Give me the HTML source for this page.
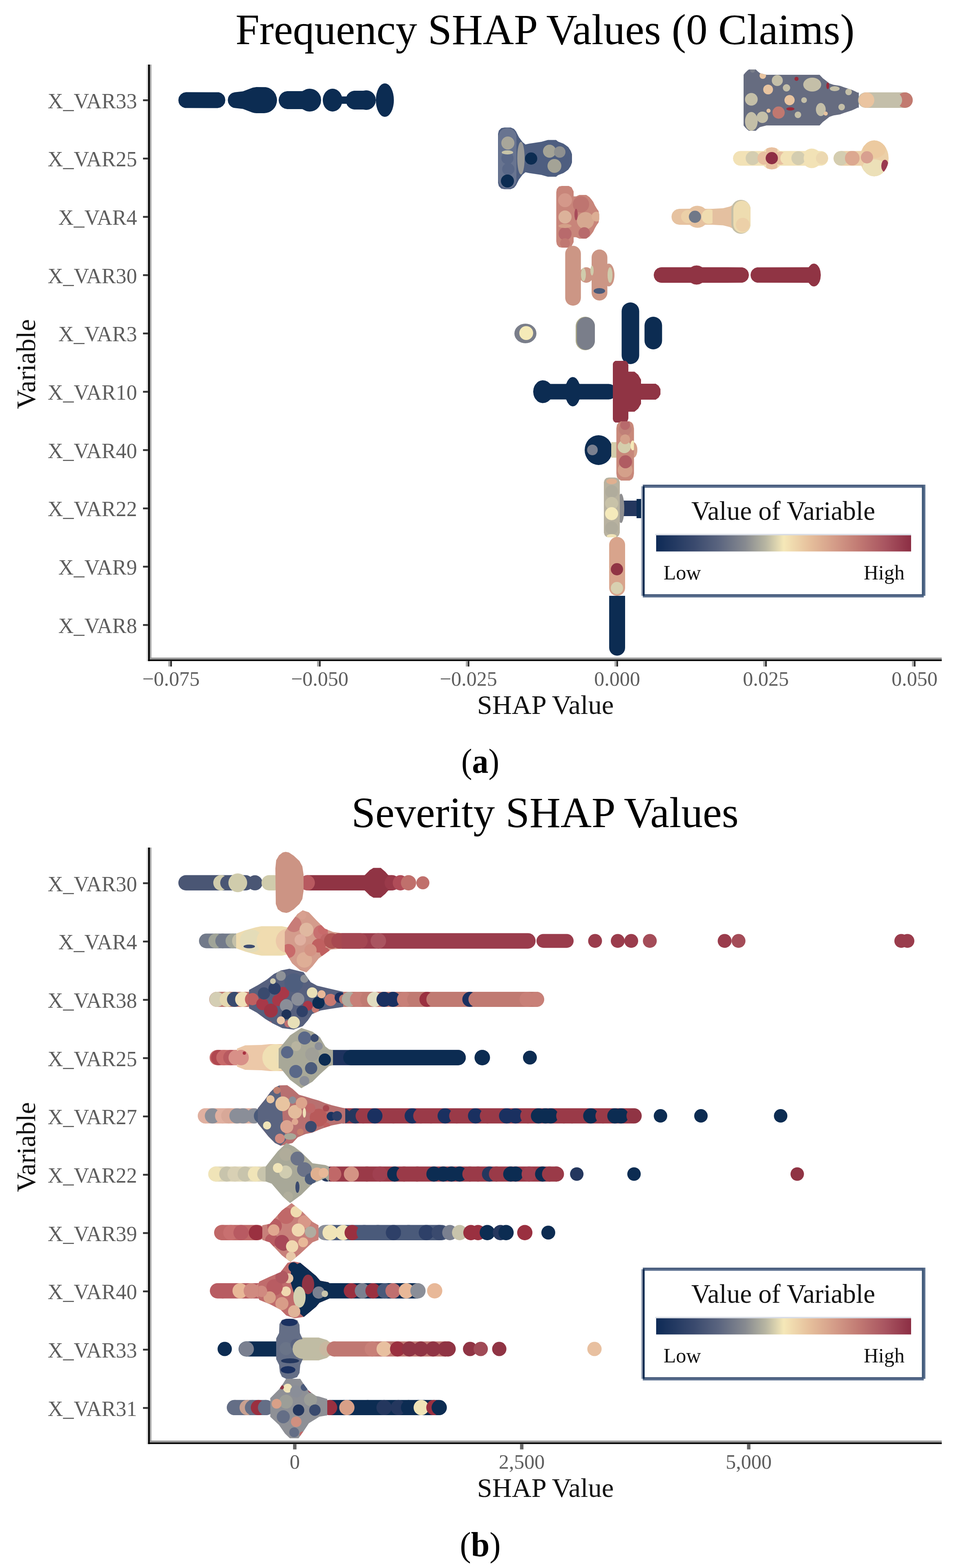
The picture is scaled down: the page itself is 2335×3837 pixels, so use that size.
<!DOCTYPE html>
<html><head><meta charset="utf-8"><title>SHAP Values</title>
<style>html,body{margin:0;padding:0;background:#fff;} svg{display:block;} text{font-family:'Liberation Serif', 'Times New Roman', serif;}</style>
</head><body>
<svg width="2335" height="3837" viewBox="0 0 2335 3837">
<defs><linearGradient id="grad" x1="0" x2="1" y1="0" y2="0"><stop offset="0" stop-color="#0e2a56"/><stop offset="0.15" stop-color="#3a4a6e"/><stop offset="0.25" stop-color="#5c6680"/><stop offset="0.35" stop-color="#878a90"/><stop offset="0.43" stop-color="#b8b6a2"/><stop offset="0.5" stop-color="#f5e8b8"/><stop offset="0.6" stop-color="#e6c09c"/><stop offset="0.7" stop-color="#d49c88"/><stop offset="0.8" stop-color="#c07872"/><stop offset="0.9" stop-color="#a85460"/><stop offset="1" stop-color="#8c2e44"/></linearGradient><clipPath id="k1"><path d="M1820.0,183.0 L1824.0,178.0 L1829.0,173.0 L1833.0,170.0 L1850.0,170.0 L1855.0,175.0 L1860.0,179.0 L1876.0,183.0 L2006.0,183.0 L2014.0,191.5 L2020.0,196.0 L2030.0,204.0 L2040.0,207.5 L2056.0,210.0 L2067.0,214.0 L2084.0,219.5 L2092.0,223.0 L2099.0,226.5 L2102.0,226.5 L2102.0,263.5 L2099.0,263.5 L2092.0,267.0 L2084.0,270.5 L2067.0,276.0 L2056.0,280.0 L2040.0,282.5 L2030.0,286.0 L2020.0,294.0 L2014.0,298.5 L2006.0,307.0 L1876.0,307.0 L1860.0,311.0 L1855.0,315.0 L1850.0,320.0 L1833.0,320.0 L1829.0,317.0 L1824.0,312.0 L1820.0,307.0Z"/></clipPath><clipPath id="k2"><path d="M1219.0,327.5 L1221.0,319.5 L1227.0,313.5 L1235.0,312.0 L1250.0,312.0 L1258.0,315.5 L1263.0,321.5 L1270.0,335.5 L1279.0,347.5 L1286.0,353.5 L1295.0,351.5 L1325.0,347.0 L1341.0,342.5 L1361.0,342.5 L1366.0,346.5 L1379.0,351.5 L1385.0,355.5 L1391.0,360.0 L1397.0,368.9 L1400.0,377.5 L1400.0,397.5 L1397.0,406.1 L1391.0,415.0 L1385.0,419.5 L1379.0,423.5 L1366.0,428.5 L1361.0,432.5 L1341.0,432.5 L1325.0,428.0 L1295.0,423.5 L1286.0,421.5 L1279.0,427.5 L1270.0,439.5 L1263.0,453.5 L1258.0,459.5 L1250.0,463.0 L1235.0,463.0 L1227.0,461.5 L1221.0,455.5 L1219.0,447.5Z"/></clipPath><clipPath id="k3"><path d="M1794.0,387.5 L1795.0,381.6 L1798.0,376.2 L1802.0,372.5 L1807.0,370.2 L1812.0,369.5 L1868.0,369.5 L1869.0,369.4 L1873.0,365.8 L1878.0,362.8 L1883.0,361.2 L1889.0,360.5 L1895.0,361.2 L1900.0,362.8 L1905.0,365.8 L1909.0,369.4 L1910.0,369.5 L1971.0,369.5 L1976.0,366.2 L1981.0,364.3 L1986.0,363.5 L1992.0,364.0 L1998.0,366.2 L2003.0,369.5 L2012.0,369.8 L2016.0,370.9 L2019.0,372.5 L2022.0,375.1 L2025.0,379.3 L2026.0,381.6 L2027.0,387.5 L2026.0,393.4 L2025.0,395.7 L2022.0,399.9 L2019.0,402.5 L2016.0,404.1 L2012.0,405.2 L2003.0,405.5 L1998.0,408.8 L1992.0,411.0 L1986.0,411.5 L1981.0,410.7 L1976.0,408.8 L1971.0,405.5 L1910.0,405.5 L1909.0,405.6 L1905.0,409.2 L1900.0,412.2 L1895.0,413.8 L1889.0,414.5 L1883.0,413.8 L1878.0,412.2 L1873.0,409.2 L1869.0,405.6 L1868.0,405.5 L1812.0,405.5 L1807.0,404.8 L1802.0,402.5 L1798.0,398.8 L1795.0,393.4 L1794.0,387.5Z"/></clipPath><clipPath id="k4"><path d="M2040.0,387.5 L2041.0,381.6 L2044.0,376.2 L2048.0,372.5 L2053.0,370.2 L2058.0,369.5 L2108.0,369.5 L2111.0,362.9 L2114.0,358.0 L2121.0,350.5 L2125.0,347.7 L2130.0,345.3 L2135.0,344.0 L2140.0,343.5 L2147.0,344.4 L2154.0,347.2 L2160.0,351.4 L2165.0,356.7 L2169.0,362.9 L2172.0,369.7 L2174.0,377.1 L2175.0,387.5 L2174.0,397.9 L2172.0,405.3 L2169.0,412.1 L2165.0,418.3 L2160.0,423.6 L2154.0,427.8 L2147.0,430.6 L2140.0,431.5 L2135.0,431.0 L2130.0,429.7 L2125.0,427.3 L2121.0,424.5 L2114.0,417.0 L2111.0,412.1 L2108.0,405.5 L2058.0,405.5 L2053.0,404.8 L2048.0,402.5 L2044.0,398.8 L2041.0,393.4 L2040.0,387.5Z"/></clipPath><clipPath id="k5"><path d="M1361.5,470.5 L1363.0,462.5 L1368.0,456.5 L1375.0,455.0 L1392.0,455.0 L1399.0,458.5 L1404.0,468.5 L1404.0,480.5 L1410.0,480.5 L1418.0,477.0 L1435.0,477.0 L1443.0,482.5 L1448.0,488.5 L1452.0,494.0 L1456.0,502.5 L1461.0,511.0 L1465.0,516.5 L1466.5,524.5 L1466.5,536.5 L1465.0,544.5 L1461.0,550.0 L1456.0,558.5 L1452.0,567.0 L1448.0,572.5 L1443.0,578.5 L1435.0,584.0 L1418.0,584.0 L1410.0,580.5 L1404.0,580.5 L1404.0,592.5 L1399.0,602.5 L1392.0,606.0 L1375.0,606.0 L1368.0,604.5 L1363.0,598.5 L1361.5,590.5Z"/></clipPath><clipPath id="k6"><path d="M1643.5,530.5 L1644.5,524.3 L1646.5,520.1 L1650.5,515.5 L1655.5,512.5 L1662.5,511.0 L1688.5,510.8 L1692.5,507.7 L1696.5,505.6 L1701.5,504.1 L1706.5,503.5 L1711.5,503.9 L1716.5,505.2 L1720.5,507.1 L1725.5,510.8 L1726.5,511.0 L1800.5,511.0 L1804.5,511.5 L1810.5,514.1 L1815.5,518.7 L1818.5,524.3 L1819.5,530.5 L1818.5,536.7 L1815.5,542.3 L1810.5,546.9 L1804.5,549.5 L1800.5,550.0 L1726.5,550.0 L1725.5,550.2 L1720.5,553.9 L1716.5,555.8 L1712.5,556.9 L1707.5,557.5 L1702.5,557.1 L1697.5,555.8 L1692.5,553.3 L1688.5,550.2 L1662.5,550.0 L1655.5,548.5 L1650.5,545.5 L1646.5,540.9 L1644.5,536.7 L1643.5,530.5Z"/></clipPath><clipPath id="k7"><path d="M1508.6,1048.4 L1510.0,1039.4 L1514.0,1034.4 L1520.0,1030.9 L1541.0,1030.9 L1547.0,1034.4 L1550.0,1039.4 L1551.7,1048.4 L1551.7,1158.4 L1550.0,1167.4 L1547.0,1172.4 L1541.0,1175.9 L1520.0,1175.9 L1514.0,1172.4 L1510.0,1167.4 L1508.6,1158.4Z"/></clipPath><clipPath id="k8"><path d="M1478.0,1179.7 L1480.0,1173.7 L1484.0,1169.7 L1490.0,1168.4 L1505.0,1168.4 L1511.0,1169.7 L1515.0,1173.7 L1517.0,1179.7 L1517.0,1303.7 L1515.0,1309.7 L1511.0,1313.7 L1505.0,1315.0 L1490.0,1315.0 L1484.0,1313.7 L1480.0,1309.7 L1478.0,1303.7Z"/></clipPath><clipPath id="k9"><path d="M578.0,2284.4 L600.0,2276.4 L625.0,2269.4 L640.0,2266.4 L690.0,2266.4 L705.0,2269.4 L705.0,2335.4 L690.0,2338.4 L640.0,2338.4 L625.0,2335.4 L600.0,2328.4 L578.0,2320.4Z"/></clipPath><clipPath id="k10"><path d="M697.0,2280.4 L712.0,2257.4 L728.0,2236.4 L741.0,2227.4 L756.0,2232.4 L775.0,2252.4 L795.0,2272.4 L815.0,2280.4 L836.0,2283.4 L836.0,2321.4 L810.0,2323.4 L780.0,2345.4 L765.0,2364.4 L750.0,2379.4 L735.0,2374.4 L715.0,2357.4 L697.0,2327.4Z"/></clipPath><clipPath id="k11"><path d="M609.5,2422.4 L632.0,2410.3 L652.9,2397.3 L670.2,2383.4 L687.5,2374.7 L708.4,2370.4 L743.0,2379.0 L760.4,2403.4 L776.0,2412.0 L805.5,2419.0 L840.0,2427.0 L840.0,2464.0 L805.5,2469.3 L784.7,2472.7 L763.9,2481.4 L753.5,2497.0 L741.3,2511.0 L718.8,2519.6 L691.0,2516.0 L666.7,2504.0 L649.4,2493.6 L628.6,2478.0 L609.5,2467.5Z"/></clipPath><clipPath id="k12"><path d="M580.0,2566.0 L600.0,2558.0 L640.0,2557.0 L660.0,2555.0 L705.0,2555.0 L715.0,2560.0 L715.0,2616.0 L705.0,2621.0 L660.0,2621.0 L640.0,2619.0 L600.0,2618.0 L580.0,2610.0Z"/></clipPath><clipPath id="k13"><path d="M682.0,2566.0 L687.6,2561.0 L710.0,2533.6 L737.5,2515.5 L764.8,2524.6 L783.0,2538.0 L796.5,2561.0 L805.6,2567.7 L815.0,2569.5 L815.0,2606.7 L805.6,2608.5 L783.0,2629.0 L764.8,2647.0 L737.5,2663.0 L710.0,2642.5 L687.6,2615.0 L682.0,2614.0Z"/></clipPath><clipPath id="k14"><path d="M631.0,2712.0 L649.0,2690.0 L661.6,2672.4 L673.0,2661.0 L684.0,2656.0 L703.0,2655.6 L716.0,2664.4 L732.0,2679.0 L748.0,2683.6 L764.0,2688.4 L780.0,2693.0 L796.0,2699.6 L812.0,2704.4 L837.7,2710.8 L845.0,2712.0 L845.0,2749.0 L837.7,2749.0 L812.0,2754.0 L796.0,2759.0 L780.0,2765.0 L764.0,2771.7 L748.0,2775.0 L729.0,2783.0 L716.0,2797.0 L687.0,2803.7 L673.0,2797.0 L657.0,2781.0 L644.0,2765.0 L631.0,2749.0Z"/></clipPath><clipPath id="k15"><path d="M650.0,2855.0 L660.0,2842.0 L680.0,2817.0 L701.0,2797.0 L720.0,2806.0 L737.5,2819.5 L764.8,2846.6 L796.5,2851.0 L805.0,2854.5 L805.0,2891.5 L796.5,2883.0 L764.8,2896.5 L737.5,2923.8 L710.0,2944.0 L692.0,2928.0 L665.0,2896.5 L650.0,2891.0Z"/></clipPath><clipPath id="k16"><path d="M642.0,2998.3 L660.0,2995.0 L690.0,2962.0 L713.7,2944.0 L740.0,2965.0 L765.0,2990.0 L779.6,2998.3 L779.6,3034.3 L765.0,3040.0 L735.0,3068.0 L711.0,3088.0 L690.0,3072.0 L660.0,3040.0 L642.0,3034.3Z"/></clipPath><clipPath id="k17"><path d="M632.5,3140.7 L634.7,3136.0 L660.7,3124.0 L686.7,3113.0 L704.0,3090.0 L720.0,3087.0 L735.0,3090.0 L773.5,3122.0 L784.0,3134.0 L803.0,3137.6 L808.0,3140.7 L808.0,3176.7 L803.0,3179.0 L782.0,3188.0 L773.5,3198.0 L744.0,3222.6 L721.0,3226.0 L700.6,3219.0 L686.7,3205.0 L660.7,3191.4 L634.7,3181.0 L632.5,3176.7Z"/></clipPath><clipPath id="k18"><path d="M684.0,3240.0 L690.0,3230.0 L700.0,3227.0 L718.0,3227.0 L728.0,3231.0 L733.0,3242.0 L734.0,3262.0 L740.0,3275.0 L741.0,3326.0 L735.0,3340.0 L733.0,3360.0 L727.0,3370.0 L715.0,3374.0 L700.0,3374.0 L690.0,3369.0 L685.0,3358.0 L683.0,3340.0 L676.0,3326.0 L676.0,3275.0 L683.0,3262.0Z"/></clipPath><clipPath id="k19"><path d="M661.6,3426.4 L661.3,3421.4 L682.7,3400.0 L693.4,3385.0 L700.0,3374.0 L735.0,3374.0 L741.4,3384.0 L756.0,3404.0 L773.4,3416.0 L781.4,3417.4 L801.0,3423.4 L801.0,3463.4 L781.4,3466.7 L773.4,3472.0 L756.0,3482.7 L742.7,3502.8 L730.7,3519.4 L709.4,3519.4 L697.4,3508.0 L682.7,3486.7 L661.3,3466.7 L661.6,3462.4Z"/></clipPath></defs>
<rect width="2335" height="3837" fill="#fff"/>
<text x="1334" y="108" font-size="105.3" text-anchor="middle" fill="#000" font-weight="normal" >Frequency SHAP Values (0 Claims)</text><rect x="358.5" y="158" width="4" height="1460" fill="#e2e2e2"/><rect x="366.8" y="158" width="4" height="1452" fill="#ababab"/><rect x="362.4" y="158" width="4.4" height="1459.6" fill="#000"/><rect x="366.8" y="1609.2" width="1938.2" height="4.8" fill="#959595"/><rect x="362.4" y="1614" width="1942.6" height="3.6" fill="#000"/><rect x="350" y="243.1" width="12.4" height="4.4" fill="#333"/><text x="335.5" y="264.6" font-size="52" text-anchor="end" fill="#5e5e5e" font-weight="normal" >X_VAR33</text><rect x="350" y="385.8" width="12.4" height="4.4" fill="#333"/><text x="335.5" y="407.3" font-size="52" text-anchor="end" fill="#5e5e5e" font-weight="normal" >X_VAR25</text><rect x="350" y="528.5" width="12.4" height="4.4" fill="#333"/><text x="335.5" y="550" font-size="52" text-anchor="end" fill="#5e5e5e" font-weight="normal" >X_VAR4</text><rect x="350" y="671.1" width="12.4" height="4.4" fill="#333"/><text x="335.5" y="692.6" font-size="52" text-anchor="end" fill="#5e5e5e" font-weight="normal" >X_VAR30</text><rect x="350" y="813.8" width="12.4" height="4.4" fill="#333"/><text x="335.5" y="835.3" font-size="52" text-anchor="end" fill="#5e5e5e" font-weight="normal" >X_VAR3</text><rect x="350" y="956.5" width="12.4" height="4.4" fill="#333"/><text x="335.5" y="978" font-size="52" text-anchor="end" fill="#5e5e5e" font-weight="normal" >X_VAR10</text><rect x="350" y="1099.2" width="12.4" height="4.4" fill="#333"/><text x="335.5" y="1120.7" font-size="52" text-anchor="end" fill="#5e5e5e" font-weight="normal" >X_VAR40</text><rect x="350" y="1241.9" width="12.4" height="4.4" fill="#333"/><text x="335.5" y="1263.4" font-size="52" text-anchor="end" fill="#5e5e5e" font-weight="normal" >X_VAR22</text><rect x="350" y="1384.5" width="12.4" height="4.4" fill="#333"/><text x="335.5" y="1406" font-size="52" text-anchor="end" fill="#5e5e5e" font-weight="normal" >X_VAR9</text><rect x="350" y="1527.2" width="12.4" height="4.4" fill="#333"/><text x="335.5" y="1548.7" font-size="52" text-anchor="end" fill="#5e5e5e" font-weight="normal" >X_VAR8</text><rect x="416.6" y="1617.6" width="4.2" height="13.4" fill="#2a2a2a"/><rect x="412" y="1617.6" width="4.6" height="13.4" fill="#aaaaaa"/><text x="418.5" y="1678" font-size="50" text-anchor="middle" fill="#5e5e5e" font-weight="normal" >−0.075</text><rect x="780.6" y="1617.6" width="4.2" height="13.4" fill="#2a2a2a"/><rect x="776" y="1617.6" width="4.6" height="13.4" fill="#aaaaaa"/><text x="782.5" y="1678" font-size="50" text-anchor="middle" fill="#5e5e5e" font-weight="normal" >−0.050</text><rect x="1144.6" y="1617.6" width="4.2" height="13.4" fill="#2a2a2a"/><rect x="1140" y="1617.6" width="4.6" height="13.4" fill="#aaaaaa"/><text x="1146.5" y="1678" font-size="50" text-anchor="middle" fill="#5e5e5e" font-weight="normal" >−0.025</text><rect x="1508.6" y="1617.6" width="4.2" height="13.4" fill="#2a2a2a"/><rect x="1504" y="1617.6" width="4.6" height="13.4" fill="#aaaaaa"/><text x="1510.5" y="1678" font-size="50" text-anchor="middle" fill="#5e5e5e" font-weight="normal" >0.000</text><rect x="1872.6" y="1617.6" width="4.2" height="13.4" fill="#2a2a2a"/><rect x="1868" y="1617.6" width="4.6" height="13.4" fill="#aaaaaa"/><text x="1874.5" y="1678" font-size="50" text-anchor="middle" fill="#5e5e5e" font-weight="normal" >0.025</text><rect x="2236.6" y="1617.6" width="4.2" height="13.4" fill="#2a2a2a"/><rect x="2232" y="1617.6" width="4.6" height="13.4" fill="#aaaaaa"/><text x="2238.5" y="1678" font-size="50" text-anchor="middle" fill="#5e5e5e" font-weight="normal" >0.050</text><text x="1335" y="1747" font-size="66.5" text-anchor="middle" fill="#111" font-weight="normal" >SHAP Value</text><text x="85.5" y="891" font-size="66" text-anchor="middle" fill="#111" transform="rotate(-90 85.5 891)">Variable</text><path d="M436.5,245.0 L437.5,238.8 L438.5,236.4 L442.5,230.9 L448.5,227.0 L455.5,225.5 L535.5,225.8 L541.5,228.0 L546.5,232.0 L548.5,234.6 L550.5,238.8 L551.5,245.0 L550.5,251.2 L549.5,253.6 L545.5,259.1 L539.5,263.0 L532.5,264.5 L452.5,264.2 L446.5,262.0 L441.5,258.0 L439.5,255.4 L437.5,251.2 L436.5,245.0Z" fill="#0c2c52"/><path d="M557.5,245.0 L558.5,238.8 L560.5,234.6 L564.5,230.0 L568.5,227.5 L574.5,225.7 L594.5,223.5 L618.5,214.4 L627.5,213.0 L650.5,213.3 L657.5,215.1 L663.5,218.2 L669.5,223.3 L674.5,230.4 L677.5,239.4 L678.0,245.0 L677.5,250.6 L675.5,257.4 L672.5,262.9 L668.5,267.8 L663.5,271.8 L658.5,274.5 L652.5,276.3 L646.5,277.0 L627.5,277.0 L622.5,276.5 L617.5,275.2 L594.5,266.5 L574.5,264.3 L570.5,263.4 L565.5,260.7 L561.5,256.8 L558.5,251.2 L557.5,245.0Z" fill="#0c2c52"/><path d="M682.0,245.0 L683.0,238.4 L686.0,232.4 L690.0,228.0 L696.0,224.5 L703.0,223.0 L740.0,223.0 L749.0,218.5 L753.0,217.5 L758.0,217.0 L764.0,217.7 L769.0,219.3 L774.0,222.0 L778.0,225.4 L781.0,229.0 L784.0,234.6 L785.0,237.6 L786.0,245.0 L785.0,252.4 L784.0,255.4 L781.0,261.0 L778.0,264.6 L774.0,268.0 L769.0,270.7 L764.0,272.3 L758.0,273.0 L753.0,272.5 L749.0,271.5 L740.0,267.0 L703.0,267.0 L696.0,265.5 L690.0,262.0 L686.0,257.6 L683.0,251.6 L682.0,245.0Z" fill="#0c2c52"/><ellipse cx="814" cy="245" rx="24" ry="28" fill="#0c2c52"/><rect x="828" y="236" width="34" height="18" rx="9" fill="#0c2c52"/><path d="M846.0,245.0 L847.0,238.3 L850.0,232.0 L854.0,227.6 L859.0,224.3 L863.0,222.8 L867.0,222.1 L889.0,222.0 L896.0,221.0 L901.0,221.5 L905.0,222.8 L909.0,224.8 L913.0,228.1 L916.0,231.7 L918.0,235.4 L919.0,238.1 L920.0,245.0 L919.0,251.9 L918.0,254.6 L916.0,258.3 L913.0,261.9 L909.0,265.2 L905.0,267.2 L901.0,268.5 L896.0,269.0 L889.0,268.0 L867.0,267.9 L863.0,267.2 L859.0,265.7 L854.0,262.4 L850.0,258.0 L847.0,251.7 L846.0,245.0Z" fill="#0c2c52"/><ellipse cx="942" cy="245" rx="22" ry="41" fill="#0c2c52"/><path d="M1820.0,183.0 L1824.0,178.0 L1829.0,173.0 L1833.0,170.0 L1850.0,170.0 L1855.0,175.0 L1860.0,179.0 L1876.0,183.0 L2006.0,183.0 L2014.0,191.5 L2020.0,196.0 L2030.0,204.0 L2040.0,207.5 L2056.0,210.0 L2067.0,214.0 L2084.0,219.5 L2092.0,223.0 L2099.0,226.5 L2102.0,226.5 L2102.0,263.5 L2099.0,263.5 L2092.0,267.0 L2084.0,270.5 L2067.0,276.0 L2056.0,280.0 L2040.0,282.5 L2030.0,286.0 L2020.0,294.0 L2014.0,298.5 L2006.0,307.0 L1876.0,307.0 L1860.0,311.0 L1855.0,315.0 L1850.0,320.0 L1833.0,320.0 L1829.0,317.0 L1824.0,312.0 L1820.0,307.0Z" fill="#666c80"/><g clip-path="url(#k1)"><circle cx="1839" cy="243" r="15.5" fill="#c4bfa8"/><ellipse cx="1839" cy="297" rx="15.5" ry="23" fill="#c4bfa8"/><circle cx="1866" cy="287" r="14" fill="#c4bfa8"/><circle cx="1902.5" cy="197" r="13.5" fill="#c4bfa8"/><circle cx="1953" cy="281" r="8" fill="#c4bfa8"/><ellipse cx="1988" cy="207" rx="22" ry="17" fill="#c4bfa8"/><ellipse cx="2009" cy="268" rx="12" ry="16" fill="#c4bfa8"/><circle cx="2077" cy="225" r="8" fill="#c4bfa8"/><ellipse cx="2043" cy="217" rx="12" ry="6" fill="#c4bfa8"/><circle cx="1867" cy="185" r="8" fill="#e8c4a0"/><circle cx="1880" cy="219" r="12" fill="#e8c4a0"/><circle cx="1932.5" cy="245" r="12.5" fill="#e8c4a0"/><circle cx="1881" cy="271" r="5" fill="#e8c4a0"/><circle cx="2021" cy="278" r="5" fill="#e8c4a0"/><circle cx="1905.7" cy="275.5" r="15" fill="#c07870"/><ellipse cx="1934.5" cy="266.5" rx="10" ry="4" fill="#9a2a3a"/><circle cx="1949.5" cy="193" r="5" fill="#9a2a3a"/><ellipse cx="2026" cy="210" rx="3.5" ry="8" fill="#9a2a3a"/><circle cx="1842" cy="172" r="6" fill="#7a7e8a"/><circle cx="1925" cy="215" r="9" fill="#c4bfa8"/><circle cx="2060" cy="262" r="8" fill="#c4bfa8"/><circle cx="1968" cy="245" r="7" fill="#c4bfa8"/></g><rect x="2100" y="226" width="134" height="38" rx="19" fill="#c4bfaa"/><circle cx="2121" cy="245" r="19" fill="#eac4a0"/><circle cx="2215" cy="245" r="19" fill="#c27a70"/><circle cx="2189" cy="245" r="19" fill="#c4bfaa"/><path d="M1219.0,327.5 L1221.0,319.5 L1227.0,313.5 L1235.0,312.0 L1250.0,312.0 L1258.0,315.5 L1263.0,321.5 L1270.0,335.5 L1279.0,347.5 L1286.0,353.5 L1295.0,351.5 L1325.0,347.0 L1341.0,342.5 L1361.0,342.5 L1366.0,346.5 L1379.0,351.5 L1385.0,355.5 L1391.0,360.0 L1397.0,368.9 L1400.0,377.5 L1400.0,397.5 L1397.0,406.1 L1391.0,415.0 L1385.0,419.5 L1379.0,423.5 L1366.0,428.5 L1361.0,432.5 L1341.0,432.5 L1325.0,428.0 L1295.0,423.5 L1286.0,421.5 L1279.0,427.5 L1270.0,439.5 L1263.0,453.5 L1258.0,459.5 L1250.0,463.0 L1235.0,463.0 L1227.0,461.5 L1221.0,455.5 L1219.0,447.5Z" fill="#4e5e80"/><g clip-path="url(#k2)"><rect x="1220" y="313" width="44" height="149" rx="22" fill="#687490"/><circle cx="1243" cy="350" r="16" fill="#a8a69a"/><circle cx="1242" cy="387" r="15" fill="#5a6888"/><circle cx="1244" cy="414" r="15" fill="#5a6888"/><circle cx="1242" cy="443" r="16" fill="#0c2c52"/><ellipse cx="1242" cy="373" rx="14" ry="5" fill="#c8c4a8"/><ellipse cx="1275" cy="387" rx="9" ry="40" fill="#9a9a98"/><circle cx="1300" cy="388" r="15" fill="#0c2c52"/><circle cx="1345" cy="370" r="16" fill="#a4a396"/><circle cx="1357" cy="406" r="17" fill="#a4a396"/><circle cx="1370" cy="372" r="14" fill="#8e9090"/></g><path d="M1794.0,387.5 L1795.0,381.6 L1798.0,376.2 L1802.0,372.5 L1807.0,370.2 L1812.0,369.5 L1868.0,369.5 L1869.0,369.4 L1873.0,365.8 L1878.0,362.8 L1883.0,361.2 L1889.0,360.5 L1895.0,361.2 L1900.0,362.8 L1905.0,365.8 L1909.0,369.4 L1910.0,369.5 L1971.0,369.5 L1976.0,366.2 L1981.0,364.3 L1986.0,363.5 L1992.0,364.0 L1998.0,366.2 L2003.0,369.5 L2012.0,369.8 L2016.0,370.9 L2019.0,372.5 L2022.0,375.1 L2025.0,379.3 L2026.0,381.6 L2027.0,387.5 L2026.0,393.4 L2025.0,395.7 L2022.0,399.9 L2019.0,402.5 L2016.0,404.1 L2012.0,405.2 L2003.0,405.5 L1998.0,408.8 L1992.0,411.0 L1986.0,411.5 L1981.0,410.7 L1976.0,408.8 L1971.0,405.5 L1910.0,405.5 L1909.0,405.6 L1905.0,409.2 L1900.0,412.2 L1895.0,413.8 L1889.0,414.5 L1883.0,413.8 L1878.0,412.2 L1873.0,409.2 L1869.0,405.6 L1868.0,405.5 L1812.0,405.5 L1807.0,404.8 L1802.0,402.5 L1798.0,398.8 L1795.0,393.4 L1794.0,387.5Z" fill="#f2e2b6"/><g clip-path="url(#k3)"><circle cx="1842" cy="387" r="17" fill="#d4cdb0"/><circle cx="1870" cy="387" r="16" fill="#e8c0a0"/><circle cx="1889" cy="370" r="14" fill="#e8c0a0"/><circle cx="1889" cy="405" r="14" fill="#e8c0a0"/><circle cx="1910" cy="387" r="16" fill="#e8c0a0"/><circle cx="1926" cy="387" r="16" fill="#f2e2b6"/><circle cx="1954" cy="387" r="17" fill="#d4cdb0"/><circle cx="1987" cy="387" r="20" fill="#f2e2b6"/><circle cx="1889" cy="387" r="15" fill="#8e2e44"/><circle cx="2012" cy="387" r="15" fill="#ecd8b0"/></g><path d="M2040.0,387.5 L2041.0,381.6 L2044.0,376.2 L2048.0,372.5 L2053.0,370.2 L2058.0,369.5 L2108.0,369.5 L2111.0,362.9 L2114.0,358.0 L2121.0,350.5 L2125.0,347.7 L2130.0,345.3 L2135.0,344.0 L2140.0,343.5 L2147.0,344.4 L2154.0,347.2 L2160.0,351.4 L2165.0,356.7 L2169.0,362.9 L2172.0,369.7 L2174.0,377.1 L2175.0,387.5 L2174.0,397.9 L2172.0,405.3 L2169.0,412.1 L2165.0,418.3 L2160.0,423.6 L2154.0,427.8 L2147.0,430.6 L2140.0,431.5 L2135.0,431.0 L2130.0,429.7 L2125.0,427.3 L2121.0,424.5 L2114.0,417.0 L2111.0,412.1 L2108.0,405.5 L2058.0,405.5 L2053.0,404.8 L2048.0,402.5 L2044.0,398.8 L2041.0,393.4 L2040.0,387.5Z" fill="#ecd0a8"/><g clip-path="url(#k4)"><circle cx="2058" cy="387" r="18" fill="#d4cdb0"/><circle cx="2086" cy="387" r="18" fill="#dca890"/><ellipse cx="2140" cy="365" rx="28" ry="22" fill="#eccaa0"/><ellipse cx="2140" cy="412" rx="30" ry="22" fill="#ece0b8"/><circle cx="2122" cy="385" r="15" fill="#d8a090"/><ellipse cx="2166" cy="406" rx="9" ry="15" fill="#9a3a50"/></g><path d="M1361.5,470.5 L1363.0,462.5 L1368.0,456.5 L1375.0,455.0 L1392.0,455.0 L1399.0,458.5 L1404.0,468.5 L1404.0,480.5 L1410.0,480.5 L1418.0,477.0 L1435.0,477.0 L1443.0,482.5 L1448.0,488.5 L1452.0,494.0 L1456.0,502.5 L1461.0,511.0 L1465.0,516.5 L1466.5,524.5 L1466.5,536.5 L1465.0,544.5 L1461.0,550.0 L1456.0,558.5 L1452.0,567.0 L1448.0,572.5 L1443.0,578.5 L1435.0,584.0 L1418.0,584.0 L1410.0,580.5 L1404.0,580.5 L1404.0,592.5 L1399.0,602.5 L1392.0,606.0 L1375.0,606.0 L1368.0,604.5 L1363.0,598.5 L1361.5,590.5Z" fill="#c8857a"/><g clip-path="url(#k5)"><circle cx="1383" cy="490" r="17" fill="#d4988a"/><circle cx="1383" cy="531" r="16" fill="#dcb29a"/><circle cx="1383" cy="572" r="16" fill="#b86a6c"/><ellipse cx="1383" cy="553" rx="16" ry="5" fill="#d4a088"/><circle cx="1383" cy="595" r="12" fill="#c07872"/><circle cx="1422" cy="500" r="20" fill="#be7570"/><circle cx="1433" cy="540" r="21" fill="#d6a890"/><ellipse cx="1410" cy="525" rx="4" ry="14" fill="#a84c5a"/><circle cx="1430" cy="570" r="14" fill="#b86a6c"/><circle cx="1460" cy="530" r="12" fill="#dcae94"/></g><path d="M1643.5,530.5 L1644.5,524.3 L1646.5,520.1 L1650.5,515.5 L1655.5,512.5 L1662.5,511.0 L1688.5,510.8 L1692.5,507.7 L1696.5,505.6 L1701.5,504.1 L1706.5,503.5 L1711.5,503.9 L1716.5,505.2 L1720.5,507.1 L1725.5,510.8 L1726.5,511.0 L1800.5,511.0 L1804.5,511.5 L1810.5,514.1 L1815.5,518.7 L1818.5,524.3 L1819.5,530.5 L1818.5,536.7 L1815.5,542.3 L1810.5,546.9 L1804.5,549.5 L1800.5,550.0 L1726.5,550.0 L1725.5,550.2 L1720.5,553.9 L1716.5,555.8 L1712.5,556.9 L1707.5,557.5 L1702.5,557.1 L1697.5,555.8 L1692.5,553.3 L1688.5,550.2 L1662.5,550.0 L1655.5,548.5 L1650.5,545.5 L1646.5,540.9 L1644.5,536.7 L1643.5,530.5Z" fill="#e6c2a0"/><g clip-path="url(#k6)"><circle cx="1683" cy="530" r="16" fill="#ecd0a8"/><circle cx="1735" cy="530" r="18" fill="#f0dcb0"/><circle cx="1701" cy="530.5" r="15" fill="#707888"/></g><path d="M1744.0,511.0 L1770.0,509.5 L1786.0,505.5 L1792.0,502.5 L1792.0,558.5 L1786.0,555.5 L1770.0,551.5 L1744.0,550.0Z" fill="#e4c0a0"/><rect x="1790" y="489" width="47" height="83" rx="23.5" fill="#c4bea6"/><rect x="1795" y="491" width="42" height="79" rx="21" fill="#eedcb0"/><circle cx="1818" cy="550" r="17" fill="#ecd0a8"/><rect x="1383.4" y="601.6" width="38.4" height="146.4" rx="19.2" fill="#cc9685"/><rect x="1418" y="654" width="34" height="38" rx="19" fill="#cc9685"/><ellipse cx="1490" cy="673" rx="14" ry="28" fill="#cc9685"/><rect x="1448" y="610.6" width="38.6" height="124.9" rx="19.3" fill="#cc9685"/><ellipse cx="1428" cy="672" rx="6" ry="16" fill="#d0ccac"/><ellipse cx="1449" cy="662" rx="4" ry="12" fill="#d0ccac"/><ellipse cx="1493" cy="673" rx="6" ry="19" fill="#d0ccac"/><ellipse cx="1467" cy="712" rx="14" ry="7" fill="#4a5a7a"/><path d="M1600.0,673.0 L1601.0,666.9 L1604.0,661.3 L1609.0,656.8 L1615.0,654.4 L1619.0,654.0 L1691.0,654.0 L1698.0,650.5 L1705.0,649.4 L1712.0,650.5 L1719.0,654.0 L1817.0,654.2 L1823.0,656.3 L1828.0,660.2 L1830.0,662.8 L1832.0,666.9 L1833.0,673.0 L1832.0,679.1 L1830.0,683.2 L1828.0,685.8 L1823.0,689.7 L1817.0,691.8 L1719.0,692.0 L1712.0,695.5 L1705.0,696.6 L1698.0,695.5 L1691.0,692.0 L1619.0,692.0 L1615.0,691.6 L1609.0,689.2 L1604.0,684.7 L1601.0,679.1 L1600.0,673.0Z" fill="#903444"/><path d="M1837.0,673.0 L1838.0,666.9 L1840.0,662.8 L1842.0,660.2 L1847.0,656.3 L1853.0,654.2 L1979.0,654.0 L1985.0,647.5 L1988.0,645.8 L1992.0,645.0 L1995.0,645.4 L1998.0,646.8 L2001.0,649.2 L2004.0,653.2 L2006.0,657.1 L2008.0,663.5 L2009.0,673.0 L2008.0,682.5 L2006.0,688.9 L2004.0,692.8 L2001.0,696.8 L1998.0,699.2 L1995.0,700.6 L1992.0,701.0 L1988.0,700.2 L1985.0,698.5 L1979.0,692.0 L1853.0,691.8 L1847.0,689.7 L1842.0,685.8 L1840.0,683.2 L1838.0,679.1 L1837.0,673.0Z" fill="#903444"/><ellipse cx="1286" cy="816" rx="27" ry="24" fill="#7a7e8a"/><circle cx="1288" cy="815" r="17" fill="#f5eab8"/><rect x="1409" y="775" width="47" height="82" rx="23.5" fill="#a8a688"/><rect x="1412" y="776" width="44" height="80" rx="22" fill="#7a7e8a"/><rect x="1521.5" y="740" width="43" height="151" rx="21.5" fill="#0c2c52"/><rect x="1577.5" y="775" width="43" height="80" rx="21.5" fill="#0c2c52"/><path d="M1305.0,958.5 L1306.0,950.5 L1308.0,944.9 L1310.0,941.4 L1315.0,935.8 L1318.0,933.6 L1322.0,931.7 L1328.0,930.5 L1335.0,931.4 L1341.0,934.3 L1347.0,939.5 L1385.0,939.5 L1386.0,939.1 L1389.0,932.2 L1393.0,926.8 L1397.0,923.8 L1402.0,922.5 L1407.0,923.8 L1411.0,926.8 L1415.0,932.2 L1418.0,939.1 L1419.0,939.5 L1490.0,939.5 L1496.0,940.5 L1501.0,943.0 L1505.0,946.8 L1508.0,952.4 L1509.0,958.5 L1508.0,964.6 L1505.0,970.2 L1501.0,974.0 L1496.0,976.5 L1490.0,977.5 L1419.0,977.5 L1418.0,977.9 L1415.0,984.8 L1411.0,990.2 L1407.0,993.2 L1402.0,994.5 L1397.0,993.2 L1393.0,990.2 L1389.0,984.8 L1386.0,977.9 L1385.0,977.5 L1347.0,977.5 L1341.0,982.7 L1335.0,985.6 L1328.0,986.5 L1322.0,985.3 L1318.0,983.4 L1315.0,981.2 L1310.0,975.6 L1308.0,972.1 L1306.0,966.5 L1305.0,958.5Z" fill="#0c2c52"/><path d="M1500.0,890.0 L1502.0,886.0 L1506.0,883.0 L1532.0,883.0 L1536.0,887.0 L1538.0,893.0 L1538.0,909.5 L1553.0,909.5 L1562.0,917.0 L1569.0,929.0 L1569.0,939.0 L1605.0,939.0 L1612.0,944.0 L1616.5,952.0 L1616.5,965.0 L1612.0,973.0 L1605.0,978.0 L1569.0,978.0 L1569.0,988.0 L1562.0,1000.0 L1553.0,1007.5 L1538.0,1007.5 L1538.0,1024.0 L1536.0,1030.0 L1532.0,1034.0 L1506.0,1034.0 L1502.0,1031.0 L1500.0,1026.0Z" fill="#903444"/><ellipse cx="1465" cy="1101.4" rx="34" ry="36.5" fill="#0c2c52"/><circle cx="1450" cy="1101" r="13" fill="#7a8090"/><rect x="1496" y="1082" width="16" height="38" fill="#d4ceac"/><ellipse cx="1550" cy="1101" rx="10" ry="19" fill="#d4a08a"/><path d="M1508.6,1048.4 L1510.0,1039.4 L1514.0,1034.4 L1520.0,1030.9 L1541.0,1030.9 L1547.0,1034.4 L1550.0,1039.4 L1551.7,1048.4 L1551.7,1158.4 L1550.0,1167.4 L1547.0,1172.4 L1541.0,1175.9 L1520.0,1175.9 L1514.0,1172.4 L1510.0,1167.4 L1508.6,1158.4Z" fill="#c8887a"/><g clip-path="url(#k7)"><circle cx="1530" cy="1150" r="18" fill="#d4a08a"/><circle cx="1531" cy="1130" r="16" fill="#b05c62"/><circle cx="1528" cy="1093" r="16" fill="#d4ceac"/><circle cx="1530" cy="1050" r="16" fill="#c08078"/><circle cx="1530" cy="1075" r="12" fill="#d4a08a"/><ellipse cx="1549" cy="1090" rx="6" ry="12" fill="#f5e8b8"/><circle cx="1530" cy="1040" r="12" fill="#b86a6c"/></g><rect x="1517" y="1225" width="56" height="38" fill="#24375e"/><rect x="1558" y="1221" width="15" height="47" fill="#0c2c52"/><ellipse cx="1520" cy="1244" rx="8" ry="36" fill="#8e8e90"/><path d="M1478.0,1179.7 L1480.0,1173.7 L1484.0,1169.7 L1490.0,1168.4 L1505.0,1168.4 L1511.0,1169.7 L1515.0,1173.7 L1517.0,1179.7 L1517.0,1303.7 L1515.0,1309.7 L1511.0,1313.7 L1505.0,1315.0 L1490.0,1315.0 L1484.0,1313.7 L1480.0,1309.7 L1478.0,1303.7Z" fill="#b8b2a0"/><g clip-path="url(#k8)"><circle cx="1497" cy="1203" r="16" fill="#b0ac9c"/><circle cx="1497" cy="1232" r="16" fill="#c8c2a8"/><circle cx="1497" cy="1257" r="16" fill="#f5eabb"/><circle cx="1497" cy="1292" r="16" fill="#b0ac9c"/><ellipse cx="1497" cy="1178" rx="13" ry="7" fill="#e0b090"/><ellipse cx="1497" cy="1312" rx="12" ry="5" fill="#f0e4b8"/></g><rect x="1491" y="1314" width="39" height="144" rx="19.5" fill="#d8a48c"/><circle cx="1510" cy="1393" r="15" fill="#903444"/><circle cx="1510" cy="1439" r="15" fill="#d8d0b0"/><rect x="1491" y="1458" width="39" height="146.5" rx="19.5" fill="#0c2c52"/><rect x="1491" y="1458" width="39" height="20" fill="#0c2c52"/><rect x="1569.3" y="1186" width="695.7" height="276" fill="#fff"/><rect x="1573.3" y="1186" width="691.7" height="4" fill="#4a5e7e"/><rect x="1577.3" y="1190" width="679.7" height="3.7" fill="#5c7090"/><rect x="1573.3" y="1454" width="683.7" height="4" fill="#4a5e7e"/><rect x="1573.3" y="1458" width="687.7" height="4" fill="#5c7090"/><rect x="1569.3" y="1190" width="3.7" height="268" fill="#a0abbd"/><rect x="1573" y="1190" width="4.8" height="268" fill="#0c2c52"/><rect x="2256.4" y="1190" width="4.6" height="268" fill="#3e5878"/><rect x="2261" y="1186" width="4" height="272" fill="#5c7290"/><text x="1917" y="1272" font-size="65" text-anchor="middle" fill="#111" font-weight="normal" >Value of Variable</text><rect x="1604" y="1306.5" width="626" height="3.5" fill="#d8dce4"/><rect x="1606" y="1310" width="624" height="39.5" fill="url(#grad)"/><text x="1624" y="1418" font-size="50" text-anchor="start" fill="#111" font-weight="normal" >Low</text><text x="2214" y="1418" font-size="50" text-anchor="end" fill="#111" font-weight="normal" >High</text><text x="1175.5" y="1891" font-size="85" text-anchor="middle" fill="#000" textLength="93" lengthAdjust="spacingAndGlyphs">(<tspan font-weight="bold">a</tspan>)</text><text x="1334" y="2024" font-size="105.3" text-anchor="middle" fill="#000" font-weight="normal" >Severity SHAP Values</text><rect x="358.5" y="2074" width="4" height="1460" fill="#e2e2e2"/><rect x="366.8" y="2074" width="4" height="1452" fill="#ababab"/><rect x="362.4" y="2074" width="4.4" height="1459.6" fill="#000"/><rect x="366.8" y="3525.2" width="1938.2" height="4.8" fill="#959595"/><rect x="362.4" y="3530" width="1942.6" height="3.6" fill="#000"/><rect x="350" y="2159.1" width="12.4" height="4.4" fill="#333"/><text x="335.5" y="2180.6" font-size="52" text-anchor="end" fill="#5e5e5e" font-weight="normal" >X_VAR30</text><rect x="350" y="2301.8" width="12.4" height="4.4" fill="#333"/><text x="335.5" y="2323.3" font-size="52" text-anchor="end" fill="#5e5e5e" font-weight="normal" >X_VAR4</text><rect x="350" y="2444.5" width="12.4" height="4.4" fill="#333"/><text x="335.5" y="2466" font-size="52" text-anchor="end" fill="#5e5e5e" font-weight="normal" >X_VAR38</text><rect x="350" y="2587.1" width="12.4" height="4.4" fill="#333"/><text x="335.5" y="2608.6" font-size="52" text-anchor="end" fill="#5e5e5e" font-weight="normal" >X_VAR25</text><rect x="350" y="2729.8" width="12.4" height="4.4" fill="#333"/><text x="335.5" y="2751.3" font-size="52" text-anchor="end" fill="#5e5e5e" font-weight="normal" >X_VAR27</text><rect x="350" y="2872.5" width="12.4" height="4.4" fill="#333"/><text x="335.5" y="2894" font-size="52" text-anchor="end" fill="#5e5e5e" font-weight="normal" >X_VAR22</text><rect x="350" y="3015.2" width="12.4" height="4.4" fill="#333"/><text x="335.5" y="3036.7" font-size="52" text-anchor="end" fill="#5e5e5e" font-weight="normal" >X_VAR39</text><rect x="350" y="3157.9" width="12.4" height="4.4" fill="#333"/><text x="335.5" y="3179.4" font-size="52" text-anchor="end" fill="#5e5e5e" font-weight="normal" >X_VAR40</text><rect x="350" y="3300.5" width="12.4" height="4.4" fill="#333"/><text x="335.5" y="3322" font-size="52" text-anchor="end" fill="#5e5e5e" font-weight="normal" >X_VAR33</text><rect x="350" y="3443.2" width="12.4" height="4.4" fill="#333"/><text x="335.5" y="3464.7" font-size="52" text-anchor="end" fill="#5e5e5e" font-weight="normal" >X_VAR31</text><rect x="717.3" y="3533.6" width="8.4" height="13.2" fill="#666"/><text x="721.5" y="3594" font-size="50" text-anchor="middle" fill="#5e5e5e" font-weight="normal" >0</text><rect x="1272.8" y="3533.6" width="8.4" height="13.2" fill="#666"/><text x="1277" y="3594" font-size="50" text-anchor="middle" fill="#5e5e5e" font-weight="normal" >2,500</text><rect x="1828.4" y="3533.6" width="8.4" height="13.2" fill="#666"/><text x="1832.6" y="3594" font-size="50" text-anchor="middle" fill="#5e5e5e" font-weight="normal" >5,000</text><text x="1335" y="3663" font-size="66.5" text-anchor="middle" fill="#111" font-weight="normal" >SHAP Value</text><text x="85.5" y="2807" font-size="66" text-anchor="middle" fill="#111" transform="rotate(-90 85.5 2807)">Variable</text><rect x="436.5" y="2141.6" width="183.5" height="37.4" rx="18.7" fill="#4a5674"/><circle cx="541" cy="2160.3" r="19" fill="#d0ccac"/><circle cx="557" cy="2160.3" r="18" fill="#4a5674"/><circle cx="582" cy="2160.3" r="23" fill="#d0ccac"/><circle cx="624" cy="2160.3" r="18.5" fill="#4a5674"/><rect x="640" y="2141.6" width="50" height="37.4" rx="18.7" fill="#d0ccac"/><rect x="735" y="2141.6" width="240" height="37.4" rx="18.7" fill="#903444"/><circle cx="752" cy="2160.3" r="18.7" fill="#b85a60"/><path d="M674.0,2125.0 L676.0,2105.0 L683.0,2093.0 L692.0,2086.0 L699.0,2084.5 L707.0,2086.0 L719.0,2094.0 L733.0,2107.0 L740.0,2120.0 L743.0,2140.0 L743.0,2180.0 L740.0,2200.0 L733.0,2212.0 L719.0,2225.0 L708.0,2232.0 L701.0,2234.0 L690.0,2232.0 L680.0,2225.0 L675.0,2212.0Z" fill="#cc9484"/><path d="M893.0,2141.3 L905.0,2129.3 L914.0,2123.8 L932.0,2123.8 L943.0,2133.3 L950.0,2141.3 L950.0,2179.3 L943.0,2187.3 L932.0,2196.8 L914.0,2196.8 L905.0,2191.3 L893.0,2179.3Z" fill="#903444"/><circle cx="960" cy="2160.3" r="18.7" fill="#9a3a4a"/><circle cx="980" cy="2160.3" r="18.7" fill="#b04c58"/><circle cx="1000" cy="2160.3" r="18.7" fill="#c0706c"/><circle cx="1035" cy="2160.3" r="16" fill="#c0706c"/><rect x="487" y="2284.4" width="113" height="36" rx="18" fill="#727a8a"/><circle cx="528" cy="2302.4" r="18" fill="#a0a498"/><circle cx="545" cy="2302.4" r="18" fill="#727a8a"/><circle cx="570" cy="2302.4" r="18" fill="#a0a498"/><circle cx="588" cy="2302.4" r="20" fill="#c4c0a8"/><path d="M578.0,2284.4 L600.0,2276.4 L625.0,2269.4 L640.0,2266.4 L690.0,2266.4 L705.0,2269.4 L705.0,2335.4 L690.0,2338.4 L640.0,2338.4 L625.0,2335.4 L600.0,2328.4 L578.0,2320.4Z" fill="#eedcb0"/><g clip-path="url(#k9)"><circle cx="615" cy="2302.4" r="28" fill="#e4dcb8"/><circle cx="660" cy="2302.4" r="32" fill="#f0dcb0"/><circle cx="705" cy="2302.4" r="30" fill="#ecc8a8"/><ellipse cx="610" cy="2316" rx="14" ry="4.5" fill="#3c4c70"/></g><rect x="790" y="2283.4" width="521" height="38" rx="19" fill="#9a3c4c"/><rect x="790" y="2283.4" width="110" height="38" rx="19" fill="#a44652"/><circle cx="926" cy="2302.4" r="19" fill="#aa5460"/><path d="M697.0,2280.4 L712.0,2257.4 L728.0,2236.4 L741.0,2227.4 L756.0,2232.4 L775.0,2252.4 L795.0,2272.4 L815.0,2280.4 L836.0,2283.4 L836.0,2321.4 L810.0,2323.4 L780.0,2345.4 L765.0,2364.4 L750.0,2379.4 L735.0,2374.4 L715.0,2357.4 L697.0,2327.4Z" fill="#d49c8c"/><g clip-path="url(#k10)"><circle cx="719" cy="2262" r="19" fill="#c87c78"/><circle cx="750" cy="2275" r="17" fill="#e0b8a0"/><circle cx="785" cy="2282" r="18" fill="#c87070"/><circle cx="800" cy="2300" r="16" fill="#c06666"/><circle cx="706" cy="2327" r="17" fill="#c86a6a"/><circle cx="745" cy="2349" r="19" fill="#deae96"/><circle cx="780" cy="2314" r="17" fill="#c06060"/><circle cx="735" cy="2300" r="14" fill="#e0b0a0"/><circle cx="760" cy="2325" r="15" fill="#d49484"/><circle cx="740" cy="2240" r="10" fill="#d8a090"/><circle cx="790" cy="2275" r="12" fill="#c86a6a"/><circle cx="795" cy="2330" r="12" fill="#c06060"/><circle cx="812" cy="2302.4" r="19" fill="#b05454"/><circle cx="830" cy="2302.4" r="19" fill="#a84850"/></g><rect x="1313" y="2285.4" width="91" height="34" rx="17" fill="#9a3c4c"/><circle cx="1456.5" cy="2302.4" r="17" fill="#9a3c4c"/><circle cx="1512" cy="2302.4" r="17" fill="#9a3c4c"/><circle cx="1545" cy="2302.4" r="17" fill="#9a3c4c"/><circle cx="1590.5" cy="2302.4" r="17" fill="#a44c58"/><circle cx="1773.6" cy="2302.4" r="17" fill="#9a3c4c"/><circle cx="1807.6" cy="2302.4" r="17" fill="#a44c58"/><circle cx="2206" cy="2302.4" r="17" fill="#9a3c4c"/><circle cx="2221" cy="2302.4" r="17" fill="#9a3c4c"/><rect x="512" y="2427" width="820" height="37" rx="18.5" fill="#c07a72"/><circle cx="531" cy="2445.5" r="18.5" fill="#d4ceb4"/><circle cx="556" cy="2445.5" r="18.5" fill="#e4d8b0"/><circle cx="574" cy="2445.5" r="18.5" fill="#3a4a6e"/><circle cx="594" cy="2445.5" r="18.5" fill="#f0e0b8"/><circle cx="618" cy="2445.5" r="18.5" fill="#c06060"/><path d="M609.5,2422.4 L632.0,2410.3 L652.9,2397.3 L670.2,2383.4 L687.5,2374.7 L708.4,2370.4 L743.0,2379.0 L760.4,2403.4 L776.0,2412.0 L805.5,2419.0 L840.0,2427.0 L840.0,2464.0 L805.5,2469.3 L784.7,2472.7 L763.9,2481.4 L753.5,2497.0 L741.3,2511.0 L718.8,2519.6 L691.0,2516.0 L666.7,2504.0 L649.4,2493.6 L628.6,2478.0 L609.5,2467.5Z" fill="#56607e"/><g clip-path="url(#k11)"><circle cx="618" cy="2445" r="15" fill="#c06060"/><circle cx="642" cy="2457" r="15" fill="#a83848"/><circle cx="663" cy="2473" r="17" fill="#9e3444"/><circle cx="693" cy="2430" r="15" fill="#a83848"/><circle cx="680" cy="2448" r="14" fill="#a83848"/><circle cx="646" cy="2431" r="15" fill="#3a4a6e"/><circle cx="672" cy="2419" r="15" fill="#2e4068"/><circle cx="719" cy="2405" r="23" fill="#4e5e7e"/><circle cx="745" cy="2395" r="10" fill="#8e9298"/><circle cx="772" cy="2470" r="9" fill="#c87870"/><circle cx="705" cy="2505" r="9" fill="#c07070"/><circle cx="687.5" cy="2388" r="12" fill="#8e9298"/><circle cx="668" cy="2401" r="7" fill="#d0ccb0"/><circle cx="701" cy="2461" r="16" fill="#8a8e98"/><circle cx="729" cy="2445" r="16" fill="#8a8e98"/><circle cx="764" cy="2429" r="13" fill="#e8e0b8"/><circle cx="753.5" cy="2461" r="12" fill="#a83848"/><circle cx="779.5" cy="2454" r="15" fill="#0c2c52"/><circle cx="739.6" cy="2475" r="14" fill="#2e4068"/><circle cx="701" cy="2482" r="12" fill="#1e3258"/><circle cx="719" cy="2502" r="15" fill="#e8e0b8"/><circle cx="687.5" cy="2497" r="10" fill="#ecc8a8"/><circle cx="809" cy="2447" r="15" fill="#c87870"/><circle cx="787" cy="2433" r="10" fill="#e8b898"/><circle cx="832" cy="2441" r="13" fill="#1a3060"/><circle cx="842" cy="2445" r="12" fill="#c07a72"/><circle cx="660" cy="2505" r="6" fill="#c07070"/></g><circle cx="855" cy="2445.5" r="18.5" fill="#b0aca0"/><circle cx="875" cy="2445.5" r="18.5" fill="#c88078"/><circle cx="900" cy="2445.5" r="18.5" fill="#c07a72"/><circle cx="917" cy="2445.5" r="18.5" fill="#e0dcc0"/><circle cx="940" cy="2445.5" r="18.5" fill="#1a3060"/><circle cx="962" cy="2445.5" r="18.5" fill="#1a3060"/><circle cx="990" cy="2445.5" r="18.5" fill="#c88078"/><circle cx="1015" cy="2445.5" r="18.5" fill="#c07a72"/><circle cx="1045" cy="2445.5" r="18.5" fill="#9a3040"/><circle cx="1062" cy="2445.5" r="18.5" fill="#c07a72"/><circle cx="1090" cy="2445.5" r="18.5" fill="#c07a72"/><circle cx="1115" cy="2445.5" r="18.5" fill="#c07a72"/><circle cx="1150" cy="2445.5" r="18.5" fill="#1a3060"/><circle cx="1165" cy="2445.5" r="18.5" fill="#c07a72"/><circle cx="1195" cy="2445.5" r="18.5" fill="#c07a72"/><circle cx="1225" cy="2445.5" r="18.5" fill="#c07a72"/><circle cx="1260" cy="2445.5" r="18.5" fill="#c07a72"/><circle cx="1290" cy="2445.5" r="18.5" fill="#c88078"/><circle cx="1313" cy="2445.5" r="18.5" fill="#c88078"/><rect x="513" y="2569.3" width="107" height="37.4" rx="18.7" fill="#c86a6a"/><circle cx="535" cy="2588" r="18.7" fill="#b04850"/><circle cx="548" cy="2588" r="18.7" fill="#c86a6a"/><circle cx="565" cy="2588" r="18.7" fill="#b85a60"/><circle cx="578" cy="2588" r="18.7" fill="#d89088"/><path d="M580.0,2566.0 L600.0,2558.0 L640.0,2557.0 L660.0,2555.0 L705.0,2555.0 L715.0,2560.0 L715.0,2616.0 L705.0,2621.0 L660.0,2621.0 L640.0,2619.0 L600.0,2618.0 L580.0,2610.0Z" fill="#ecc8a8"/><g clip-path="url(#k12)"><circle cx="612" cy="2588" r="26" fill="#ecc8a8"/><circle cx="590" cy="2588" r="19" fill="#d89088"/><circle cx="675" cy="2588" r="33" fill="#f0e0b4"/><circle cx="705" cy="2588" r="30" fill="#ece0b8"/><ellipse cx="598" cy="2577" rx="4" ry="4" fill="#a83040"/></g><rect x="790" y="2569.3" width="350" height="37.4" rx="18.7" fill="#1e335e"/><rect x="840" y="2569.3" width="300" height="37.4" rx="18.7" fill="#0c2c52"/><path d="M682.0,2566.0 L687.6,2561.0 L710.0,2533.6 L737.5,2515.5 L764.8,2524.6 L783.0,2538.0 L796.5,2561.0 L805.6,2567.7 L815.0,2569.5 L815.0,2606.7 L805.6,2608.5 L783.0,2629.0 L764.8,2647.0 L737.5,2663.0 L710.0,2642.5 L687.6,2615.0 L682.0,2614.0Z" fill="#a8a898"/><g clip-path="url(#k13)"><circle cx="745.5" cy="2540" r="16" fill="#5a6888"/><circle cx="702.8" cy="2575" r="15" fill="#5a6888"/><circle cx="724" cy="2622" r="16" fill="#5a6888"/><circle cx="764" cy="2580" r="17" fill="#a0a098"/><circle cx="795" cy="2593" r="15" fill="#0c2c52"/><circle cx="761.5" cy="2614" r="15" fill="#4a5a7a"/><circle cx="770" cy="2540" r="10" fill="#3a4a6e"/><circle cx="745" cy="2645" r="12" fill="#8a8e98"/><circle cx="725" cy="2560" r="12" fill="#b8b4a0"/><circle cx="780" cy="2560" r="10" fill="#8a8e98"/></g><circle cx="1180.4" cy="2588" r="19" fill="#0c2c52"/><circle cx="1297" cy="2588" r="17" fill="#0c2c52"/><rect x="484" y="2711.9" width="156" height="37.4" rx="18.7" fill="#e0b0a0"/><circle cx="503" cy="2730.6" r="18.7" fill="#e0b0a0"/><circle cx="520" cy="2730.6" r="18.7" fill="#8a8e98"/><circle cx="545" cy="2730.6" r="18.7" fill="#e0b0a0"/><circle cx="560" cy="2730.6" r="18.7" fill="#d8a898"/><circle cx="580" cy="2730.6" r="18.7" fill="#8a8e98"/><circle cx="595" cy="2730.6" r="18.7" fill="#8a8e98"/><circle cx="622" cy="2730.6" r="18.7" fill="#8a8e98"/><circle cx="640" cy="2730.6" r="18.7" fill="#4a5a7a"/><rect x="820" y="2711.9" width="748" height="37.4" rx="18.7" fill="#9a3a48"/><circle cx="811" cy="2730.6" r="18.7" fill="#0c2c52"/><circle cx="840" cy="2730.6" r="18.7" fill="#24375e"/><circle cx="870" cy="2730.6" r="18.7" fill="#24375e"/><circle cx="889" cy="2730.6" r="18.7" fill="#9a3a48"/><circle cx="917.5" cy="2730.6" r="18.7" fill="#1a3060"/><circle cx="963" cy="2730.6" r="18.7" fill="#9a3a48"/><circle cx="1009" cy="2730.6" r="18.7" fill="#1a3060"/><circle cx="1030" cy="2730.6" r="18.7" fill="#9a3a48"/><circle cx="1055" cy="2730.6" r="18.7" fill="#9a3a48"/><circle cx="1089.6" cy="2730.6" r="18.7" fill="#1a3060"/><circle cx="1118" cy="2730.6" r="18.7" fill="#9a3a48"/><circle cx="1164" cy="2730.6" r="18.7" fill="#1a3060"/><circle cx="1193" cy="2730.6" r="18.7" fill="#9a3a48"/><circle cx="1240" cy="2730.6" r="18.7" fill="#1a3060"/><circle cx="1262" cy="2730.6" r="18.7" fill="#1a3060"/><circle cx="1292" cy="2730.6" r="18.7" fill="#9a3a48"/><circle cx="1318" cy="2730.6" r="18.7" fill="#0c2c52"/><circle cx="1335" cy="2730.6" r="18.7" fill="#0c2c52"/><circle cx="1348" cy="2730.6" r="18.7" fill="#0c2c52"/><circle cx="1380" cy="2730.6" r="18.7" fill="#9a3a48"/><circle cx="1400" cy="2730.6" r="18.7" fill="#9a3a48"/><circle cx="1446" cy="2730.6" r="18.7" fill="#0c2c52"/><circle cx="1476" cy="2730.6" r="18.7" fill="#9a3a48"/><circle cx="1505" cy="2730.6" r="18.7" fill="#0c2c52"/><circle cx="1520" cy="2730.6" r="18.7" fill="#0c2c52"/><circle cx="1552" cy="2730.6" r="18.7" fill="#903444"/><path d="M631.0,2712.0 L649.0,2690.0 L661.6,2672.4 L673.0,2661.0 L684.0,2656.0 L703.0,2655.6 L716.0,2664.4 L732.0,2679.0 L748.0,2683.6 L764.0,2688.4 L780.0,2693.0 L796.0,2699.6 L812.0,2704.4 L837.7,2710.8 L845.0,2712.0 L845.0,2749.0 L837.7,2749.0 L812.0,2754.0 L796.0,2759.0 L780.0,2765.0 L764.0,2771.7 L748.0,2775.0 L729.0,2783.0 L716.0,2797.0 L687.0,2803.7 L673.0,2797.0 L657.0,2781.0 L644.0,2765.0 L631.0,2749.0Z" fill="#b87070"/><g clip-path="url(#k14)"><path d="M631.0,2712.0 L649.0,2690.0 L661.6,2672.4 L673.0,2661.0 L684.0,2656.0 L690.0,2700.0 L692.0,2740.0 L700.0,2790.0 L687.0,2803.7 L673.0,2797.0 L657.0,2781.0 L644.0,2765.0 L631.0,2749.0Z" fill="#5a6480"/><circle cx="662" cy="2690" r="10" fill="#e8c4a0"/><circle cx="678" cy="2668" r="9" fill="#c08070"/><circle cx="692" cy="2701" r="18" fill="#e8c4a0"/><circle cx="722" cy="2721" r="17" fill="#e4bc9c"/><ellipse cx="745" cy="2723" rx="4" ry="12" fill="#f0e0b8"/><circle cx="738" cy="2699" r="14" fill="#dca48c"/><circle cx="716" cy="2692" r="9" fill="#8a8e98"/><circle cx="702" cy="2757" r="16" fill="#dca490"/><ellipse cx="710" cy="2781" rx="15" ry="8" fill="#a8a898"/><circle cx="685" cy="2786" r="12" fill="#d08a80"/><circle cx="780" cy="2735" r="22" fill="#b85a5a"/><circle cx="760" cy="2712" r="12" fill="#c06868"/><circle cx="810.5" cy="2731.7" r="11" fill="#1a3360"/><circle cx="761" cy="2757" r="14" fill="#3a4a6e"/><circle cx="653.6" cy="2754" r="10" fill="#f0e4b8"/><circle cx="800" cy="2755" r="8" fill="#c06060"/><circle cx="722" cy="2745" r="8" fill="#e0a890"/><circle cx="735" cy="2770" r="8" fill="#c8806e"/><circle cx="798" cy="2712" r="8" fill="#a84850"/><circle cx="825" cy="2731" r="12" fill="#2e3e66"/></g><circle cx="1616.6" cy="2730.6" r="16.5" fill="#0c2c52"/><circle cx="1715.6" cy="2730.6" r="16.5" fill="#0c2c52"/><circle cx="1910.7" cy="2730.6" r="16.5" fill="#0c2c52"/><rect x="510" y="2854.5" width="160" height="37" rx="18.5" fill="#e0d8b8"/><circle cx="528" cy="2873" r="18.5" fill="#f0e4b8"/><circle cx="555" cy="2873" r="18.5" fill="#c8c4ac"/><circle cx="575" cy="2873" r="18.5" fill="#d8d0b4"/><circle cx="600" cy="2873" r="18.5" fill="#c8c4ac"/><circle cx="625" cy="2873" r="18.5" fill="#f0e4b8"/><circle cx="648" cy="2873" r="18.5" fill="#c8c4ac"/><rect x="790" y="2854.5" width="590" height="37" rx="18.5" fill="#9a3a48"/><circle cx="800" cy="2873" r="18.5" fill="#24375e"/><circle cx="817" cy="2873" r="18.5" fill="#c06868"/><circle cx="860" cy="2873" r="18.5" fill="#d49484"/><circle cx="898" cy="2873" r="18.5" fill="#9a3a48"/><circle cx="930" cy="2873" r="18.5" fill="#a04050"/><circle cx="966" cy="2873" r="18.5" fill="#0c2c52"/><circle cx="989" cy="2873" r="18.5" fill="#9a3a48"/><circle cx="1021" cy="2873" r="18.5" fill="#9a3a48"/><circle cx="1062" cy="2873" r="18.5" fill="#0c2c52"/><circle cx="1085" cy="2873" r="18.5" fill="#0c2c52"/><circle cx="1105" cy="2873" r="18.5" fill="#0c2c52"/><circle cx="1125" cy="2873" r="18.5" fill="#0c2c52"/><circle cx="1150" cy="2873" r="18.5" fill="#9a3a48"/><circle cx="1170" cy="2873" r="18.5" fill="#9a3a48"/><circle cx="1198" cy="2873" r="18.5" fill="#24375e"/><circle cx="1215" cy="2873" r="18.5" fill="#9a3a48"/><circle cx="1250" cy="2873" r="18.5" fill="#0c2c52"/><circle cx="1262" cy="2873" r="18.5" fill="#0c2c52"/><circle cx="1295" cy="2873" r="18.5" fill="#a04050"/><circle cx="1328" cy="2873" r="18.5" fill="#0c2c52"/><circle cx="1345" cy="2873" r="18.5" fill="#9a3a48"/><circle cx="1362" cy="2873" r="18.5" fill="#9a3a48"/><path d="M650.0,2855.0 L660.0,2842.0 L680.0,2817.0 L701.0,2797.0 L720.0,2806.0 L737.5,2819.5 L764.8,2846.6 L796.5,2851.0 L805.0,2854.5 L805.0,2891.5 L796.5,2883.0 L764.8,2896.5 L737.5,2923.8 L710.0,2944.0 L692.0,2928.0 L665.0,2896.5 L650.0,2891.0Z" fill="#a8a898"/><g clip-path="url(#k15)"><circle cx="700" cy="2825" r="16" fill="#b0ac9a"/><circle cx="728" cy="2835" r="17" fill="#6a7288"/><circle cx="745" cy="2862" r="18" fill="#6a7288"/><circle cx="760" cy="2885" r="14" fill="#4a5a7a"/><circle cx="776" cy="2873" r="16" fill="#e0b090"/><circle cx="699" cy="2868" r="16" fill="#d0ccb0"/><circle cx="680" cy="2858" r="12" fill="#f0e4b8"/><circle cx="716" cy="2905" r="16" fill="#a8a898"/><ellipse cx="728" cy="2905" rx="5" ry="14" fill="#3a4a6e"/><circle cx="705" cy="2928" r="12" fill="#b0ae9c"/><circle cx="792" cy="2870" r="12" fill="#e8b898"/></g><circle cx="1411.7" cy="2873" r="16.5" fill="#24375e"/><circle cx="1551.8" cy="2873" r="16.5" fill="#0c2c52"/><circle cx="1951.3" cy="2873" r="16.5" fill="#903444"/><rect x="524" y="2997.6" width="126" height="37.4" rx="18.7" fill="#c06868"/><circle cx="545" cy="3016.3" r="18.7" fill="#c06868"/><circle cx="565" cy="3016.3" r="18.7" fill="#c87070"/><circle cx="590" cy="3016.3" r="18.7" fill="#b85a62"/><circle cx="627.6" cy="3016.3" r="18.7" fill="#9a3040"/><rect x="780" y="2997.6" width="320" height="37.4" rx="18.7" fill="#4a5a7a"/><circle cx="795" cy="3016.3" r="18.7" fill="#8a8e98"/><circle cx="808" cy="3016.3" r="18.7" fill="#f0e4b8"/><circle cx="840" cy="3016.3" r="18.7" fill="#f0e4b8"/><circle cx="862" cy="3016.3" r="18.7" fill="#9a3040"/><circle cx="891.5" cy="3016.3" r="18.7" fill="#4a5a7a"/><circle cx="925" cy="3016.3" r="18.7" fill="#4a5a7a"/><circle cx="963" cy="3016.3" r="18.7" fill="#2e4068"/><circle cx="1000" cy="3016.3" r="18.7" fill="#4a5a7a"/><circle cx="1043.5" cy="3016.3" r="18.7" fill="#2e4068"/><circle cx="1075" cy="3016.3" r="18.7" fill="#3a4a6e"/><circle cx="1101" cy="3016.3" r="18.7" fill="#7a8090"/><circle cx="1125" cy="3016.3" r="18.7" fill="#c8c4ac"/><circle cx="1152.6" cy="3016.3" r="18.7" fill="#9a3040"/><circle cx="1170" cy="3016.3" r="18.7" fill="#9a3040"/><circle cx="1192.7" cy="3016.3" r="18.7" fill="#0c2c52"/><circle cx="1225" cy="3016.3" r="18.7" fill="#24375e"/><circle cx="1238.6" cy="3016.3" r="18.7" fill="#0c2c52"/><circle cx="1284.5" cy="3016.3" r="18.7" fill="#9a3040"/><circle cx="1342" cy="3016.3" r="17" fill="#0c2c52"/><path d="M642.0,2998.3 L660.0,2995.0 L690.0,2962.0 L713.7,2944.0 L740.0,2965.0 L765.0,2990.0 L779.6,2998.3 L779.6,3034.3 L765.0,3040.0 L735.0,3068.0 L711.0,3088.0 L690.0,3072.0 L660.0,3040.0 L642.0,3034.3Z" fill="#c8807a"/><g clip-path="url(#k16)"><circle cx="672" cy="3000" r="18" fill="#b85c62"/><circle cx="665" cy="3035" r="16" fill="#b85c62"/><circle cx="694" cy="3046" r="15" fill="#a04a56"/><circle cx="700" cy="2975" r="20" fill="#c06868"/><circle cx="725" cy="2965" r="14" fill="#f0dcb0"/><circle cx="745" cy="2990" r="16" fill="#d89888"/><circle cx="730" cy="3010" r="16" fill="#f0d8b0"/><circle cx="760" cy="3015" r="14" fill="#b0aca0"/><circle cx="690" cy="3040" r="18" fill="#a84858"/><circle cx="715" cy="3050" r="15" fill="#f0d8b0"/><circle cx="712" cy="3075" r="12" fill="#e8c8a8"/><circle cx="670" cy="3010" r="14" fill="#e0a890"/><circle cx="742" cy="3040" r="12" fill="#e8b898"/></g><rect x="513.6" y="3140" width="136.4" height="37.4" rx="18.7" fill="#b85c62"/><circle cx="545" cy="3158.7" r="18.7" fill="#b85c62"/><circle cx="587.7" cy="3158.7" r="18.7" fill="#e8b898"/><circle cx="615" cy="3158.7" r="18.7" fill="#d08a80"/><circle cx="640" cy="3158.7" r="18.7" fill="#d08a80"/><rect x="790" y="3140" width="250" height="37.4" rx="18.7" fill="#0c2c52"/><circle cx="860" cy="3158.7" r="18.7" fill="#9a3040"/><circle cx="887" cy="3158.7" r="18.7" fill="#7a8090"/><circle cx="913" cy="3158.7" r="18.7" fill="#9a3040"/><circle cx="941.8" cy="3158.7" r="18.7" fill="#4a5a7a"/><circle cx="962" cy="3158.7" r="18.7" fill="#c07070"/><circle cx="994.7" cy="3158.7" r="18.7" fill="#e8b898"/><circle cx="1023" cy="3158.7" r="18.7" fill="#8a8e98"/><circle cx="1063.9" cy="3158.7" r="18.7" fill="#e8b898"/><path d="M632.5,3140.7 L634.7,3136.0 L660.7,3124.0 L686.7,3113.0 L704.0,3090.0 L720.0,3087.0 L735.0,3090.0 L773.5,3122.0 L784.0,3134.0 L803.0,3137.6 L808.0,3140.7 L808.0,3176.7 L803.0,3179.0 L782.0,3188.0 L773.5,3198.0 L744.0,3222.6 L721.0,3226.0 L700.6,3219.0 L686.7,3205.0 L660.7,3191.4 L634.7,3181.0 L632.5,3176.7Z" fill="#c06c6c"/><g clip-path="url(#k17)"><path d="M712.0,3100.0 L735.0,3090.0 L773.5,3122.0 L784.0,3134.0 L808.0,3138.0 L808.0,3180.0 L782.0,3188.0 L773.5,3198.0 L744.0,3223.0 L735.0,3215.0 L712.0,3140.0Z" fill="#0c2c52"/><circle cx="718" cy="3101" r="12" fill="#0c2c52"/><ellipse cx="754" cy="3143" rx="15" ry="24" fill="#903444"/><circle cx="780" cy="3163" r="15" fill="#7a8090"/><ellipse cx="733" cy="3174" rx="15" ry="26" fill="#d4d0b0"/><circle cx="720" cy="3209" r="15" fill="#e0b498"/><circle cx="706" cy="3128" r="12" fill="#e8c8a8"/><circle cx="700" cy="3160" r="12" fill="#f0d8b0"/><circle cx="672" cy="3150" r="20" fill="#b85c62"/><circle cx="690" cy="3125" r="16" fill="#b05860"/><circle cx="660" cy="3175" r="15" fill="#d8a088"/><circle cx="690" cy="3190" r="16" fill="#d89c88"/><circle cx="640" cy="3160" r="14" fill="#d08a80"/><circle cx="795" cy="3166" r="8" fill="#c8c4ac"/></g><circle cx="550" cy="3301" r="17.5" fill="#0c2c52"/><rect x="584" y="3282.5" width="116" height="37" rx="18.5" fill="#0c2c52"/><circle cx="603" cy="3301" r="18.5" fill="#7a8090"/><rect x="800" y="3282.5" width="315" height="37" rx="18.5" fill="#c07872"/><circle cx="911" cy="3301" r="18.5" fill="#c88078"/><circle cx="940" cy="3301" r="18.5" fill="#e8c0a0"/><circle cx="973" cy="3301" r="18.5" fill="#9a3040"/><circle cx="1002" cy="3301" r="18.5" fill="#903444"/><circle cx="1030" cy="3301" r="18.5" fill="#903444"/><circle cx="1060" cy="3301" r="18.5" fill="#903444"/><circle cx="1090" cy="3301" r="18.5" fill="#903444"/><circle cx="1097" cy="3301" r="18.5" fill="#903444"/><path d="M705.0,3281.0 L720.0,3273.0 L780.0,3273.0 L800.0,3279.0 L805.0,3283.0 L805.0,3319.0 L800.0,3323.0 L780.0,3329.0 L720.0,3329.0 L705.0,3321.0Z" fill="#c0bca4"/><path d="M684.0,3240.0 L690.0,3230.0 L700.0,3227.0 L718.0,3227.0 L728.0,3231.0 L733.0,3242.0 L734.0,3262.0 L740.0,3275.0 L741.0,3326.0 L735.0,3340.0 L733.0,3360.0 L727.0,3370.0 L715.0,3374.0 L700.0,3374.0 L690.0,3369.0 L685.0,3358.0 L683.0,3340.0 L676.0,3326.0 L676.0,3275.0 L683.0,3262.0Z" fill="#646e86"/><g clip-path="url(#k18)"><ellipse cx="708" cy="3236" rx="20" ry="9" fill="#1a3060"/><ellipse cx="705" cy="3352" rx="18" ry="9" fill="#1a3060"/><circle cx="700" cy="3300" r="16" fill="#6a7488"/><circle cx="725" cy="3290" r="14" fill="#5a6480"/><ellipse cx="710" cy="3330" rx="22" ry="6" fill="#24375e"/></g><path d="M716.0,3301.0 L717.0,3294.1 L718.0,3291.4 L720.0,3287.7 L723.0,3284.1 L727.0,3280.8 L731.0,3278.8 L735.0,3277.5 L740.0,3277.0 L776.0,3277.0 L780.0,3277.5 L784.0,3278.8 L790.0,3282.3 L795.0,3287.7 L798.0,3294.1 L799.0,3301.0 L798.0,3307.9 L797.0,3310.6 L795.0,3314.3 L792.0,3317.9 L788.0,3321.2 L784.0,3323.2 L780.0,3324.5 L775.0,3325.0 L739.0,3325.0 L735.0,3324.5 L731.0,3323.2 L725.0,3319.7 L720.0,3314.3 L717.0,3307.9 L716.0,3301.0Z" fill="#c0bca4"/><circle cx="800" cy="3301" r="18.5" fill="#c8b8a0"/><circle cx="818" cy="3301" r="18.5" fill="#c07872"/><circle cx="1150.6" cy="3301" r="17.5" fill="#903444"/><circle cx="1176.6" cy="3301" r="17.5" fill="#a04a56"/><circle cx="1222" cy="3301" r="17.5" fill="#903444"/><circle cx="1455" cy="3301" r="17.5" fill="#e8c0a0"/><rect x="555" y="3425.7" width="115" height="37.4" rx="18.7" fill="#646e86"/><circle cx="575" cy="3444.4" r="18.7" fill="#646e86"/><circle cx="605" cy="3444.4" r="18.7" fill="#c8a090"/><circle cx="618" cy="3444.4" r="18.7" fill="#646e86"/><circle cx="632.5" cy="3444.4" r="18.7" fill="#9a3040"/><circle cx="650" cy="3444.4" r="18.7" fill="#646e86"/><rect x="790" y="3425.7" width="301" height="37.4" rx="18.7" fill="#0c2c52"/><circle cx="806.7" cy="3444.4" r="18.7" fill="#9a3040"/><circle cx="849" cy="3444.4" r="18.7" fill="#d8a088"/><circle cx="900" cy="3444.4" r="18.7" fill="#0c2c52"/><circle cx="940" cy="3444.4" r="18.7" fill="#24375e"/><circle cx="975" cy="3444.4" r="18.7" fill="#24375e"/><circle cx="1000" cy="3444.4" r="18.7" fill="#0c2c52"/><circle cx="1031" cy="3444.4" r="18.7" fill="#f0e4b8"/><circle cx="1062" cy="3444.4" r="18.7" fill="#9a3040"/><circle cx="1075" cy="3444.4" r="18.7" fill="#0c2c52"/><path d="M661.6,3426.4 L661.3,3421.4 L682.7,3400.0 L693.4,3385.0 L700.0,3374.0 L735.0,3374.0 L741.4,3384.0 L756.0,3404.0 L773.4,3416.0 L781.4,3417.4 L801.0,3423.4 L801.0,3463.4 L781.4,3466.7 L773.4,3472.0 L756.0,3482.7 L742.7,3502.8 L730.7,3519.4 L709.4,3519.4 L697.4,3508.0 L682.7,3486.7 L661.3,3466.7 L661.6,3462.4Z" fill="#8e9096"/><g clip-path="url(#k19)"><circle cx="704" cy="3397" r="11" fill="#f0e4b8"/><circle cx="725" cy="3405" r="15" fill="#8a8e98"/><circle cx="700" cy="3430" r="17" fill="#9c9e98"/><circle cx="760" cy="3425" r="16" fill="#9c9e98"/><circle cx="730.7" cy="3450.7" r="14" fill="#24375e"/><circle cx="770.7" cy="3450.7" r="14" fill="#3a4a6e"/><circle cx="677" cy="3435" r="12" fill="#d8a088"/><circle cx="725" cy="3479" r="13" fill="#d09080"/><circle cx="693.4" cy="3467" r="16" fill="#646e86"/><circle cx="720" cy="3505" r="12" fill="#646e86"/><circle cx="740" cy="3510" r="7" fill="#c06a6a"/><circle cx="745" cy="3395" r="9" fill="#4a5a7a"/><circle cx="690" cy="3395" r="5" fill="#903444"/><circle cx="760" cy="3402" r="6" fill="#903444"/></g><rect x="1569.3" y="3102" width="695.7" height="276" fill="#fff"/><rect x="1573.3" y="3102" width="691.7" height="4" fill="#4a5e7e"/><rect x="1577.3" y="3106" width="679.7" height="3.7" fill="#5c7090"/><rect x="1573.3" y="3370" width="683.7" height="4" fill="#4a5e7e"/><rect x="1573.3" y="3374" width="687.7" height="4" fill="#5c7090"/><rect x="1569.3" y="3106" width="3.7" height="268" fill="#a0abbd"/><rect x="1573" y="3106" width="4.8" height="268" fill="#0c2c52"/><rect x="2256.4" y="3106" width="4.6" height="268" fill="#3e5878"/><rect x="2261" y="3102" width="4" height="272" fill="#5c7290"/><text x="1917" y="3188" font-size="65" text-anchor="middle" fill="#111" font-weight="normal" >Value of Variable</text><rect x="1604" y="3222.5" width="626" height="3.5" fill="#d8dce4"/><rect x="1606" y="3226" width="624" height="39.5" fill="url(#grad)"/><text x="1624" y="3334" font-size="50" text-anchor="start" fill="#111" font-weight="normal" >Low</text><text x="2214" y="3334" font-size="50" text-anchor="end" fill="#111" font-weight="normal" >High</text><text x="1175.5" y="3807.5" font-size="85" text-anchor="middle" fill="#000" textLength="100" lengthAdjust="spacingAndGlyphs">(<tspan font-weight="bold">b</tspan>)</text>
</svg>
</body></html>
